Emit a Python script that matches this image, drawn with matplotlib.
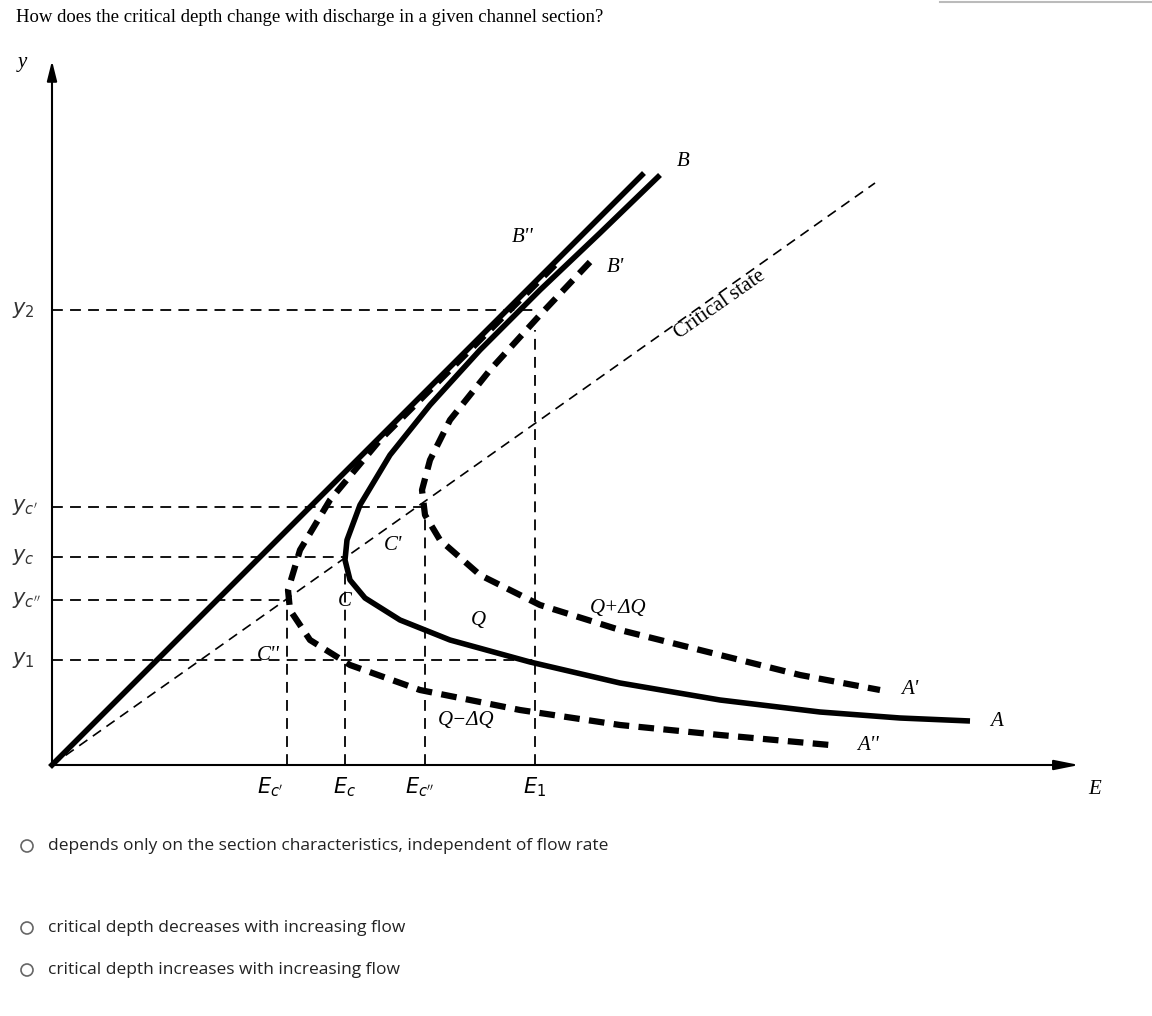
import matplotlib
matplotlib.use("Agg")
import matplotlib.pyplot as plt
import numpy as np

# Diagram data: (E, y) in diagram units (origin at axes corner)
ORIG = (52, 765)
q_E = [608, 548, 488, 428, 378, 338, 308, 295, 293, 298, 313, 348, 398, 478, 568, 668, 768, 848, 918]
q_y = [590, 532, 475, 415, 360, 310, 260, 225, 205, 185, 167, 145, 125, 103, 82, 65, 53, 47, 44]
qp_E = [538, 488, 438, 398, 378, 370, 373, 388, 428, 488, 568, 668, 748, 828]
qp_y = [503, 450, 395, 345, 305, 275, 250, 225, 190, 160, 135, 110, 90, 75]
qm_E = [503, 448, 388, 328, 278, 248, 236, 238, 258, 298, 368, 468, 568, 668, 778]
qm_y = [500, 445, 385, 325, 265, 215, 175, 155, 125, 100, 75, 55, 40, 30, 20]
line_end = 590          # E = y line extent
crit_end = (823, 582)   # critical state line end
y_ticks = [455, 258, 208, 165, 105]
y_tick_labels = [r"$y_2$", r"$y_{c'}$", r"$y_c$", r"$y_{c''}$", r"$y_1$"]
y_tick_ext = [483, 370, 293, 235, 483]
E_marks = [235, 293, 373, 483]
E_mark_top = [165, 205, 258, 435]
E_labels = [r"$E_{c'}$", r"$E_c$", r"$E_{c''}$", r"$E_1$"]
E_label_x = [270, 345, 420, 535]
options = ["depends only on the section characteristics, independent of flow rate",
           "critical depth decreases with increasing flow",
           "critical depth increases with increasing flow"]
option_y = [846, 928, 970]

fig = plt.figure(figsize=(11.52, 10.16), dpi=100)
ax = fig.add_axes([0, 0, 1, 1])
ax.set_xlim(0, 1152); ax.set_ylim(1016, 0); ax.axis("off")
X = lambda E: ORIG[0] + np.asarray(E, float)
Y = lambda y: ORIG[1] - np.asarray(y, float)
serif = "Liberation Serif"

ax.text(16, 18, "How does the critical depth change with discharge in a given channel section?",
        fontsize=13.5, family=serif, va="center")
ax.plot([940, 1152], [2, 2], color="#bbbbbb", lw=1.5)

# axes arrows
ax.annotate("", xy=(X(0), 58), xytext=(X(0), Y(0)),
            arrowprops=dict(arrowstyle="-|>,head_width=0.3,head_length=1.2", color="k", lw=1.5))
ax.annotate("", xy=(1082, Y(0)), xytext=(X(0), Y(0)),
            arrowprops=dict(arrowstyle="-|>,head_width=0.3,head_length=1.5", color="k", lw=1.5))
ax.text(18, 62, "y", fontsize=15, family=serif, style="italic", va="center")
ax.text(1088, 790, "E", fontsize=15, family=serif, style="italic", va="center")

# E = y line
ax.plot(X([0, line_end]), Y([0, line_end]), color="k", lw=4)
# critical line
ax.plot(X([0, crit_end[0]]), Y([0, crit_end[1]]), color="k", lw=1.2, ls=(0, (6, 4)))
ax.text(720, 305, "Critical state", fontsize=15, family=serif, rotation=35, ha="center", va="center")

ax.plot(X(q_E), Y(q_y), color="k", lw=4, solid_capstyle="butt")
ax.plot(X(qp_E), Y(qp_y), color="k", lw=4.5, ls=(0, (2.5, 1.5)))
ax.plot(X(qm_E), Y(qm_y), color="k", lw=4.5, ls=(0, (2.5, 1.5)))

for yv, lab, ext in zip(y_ticks, y_tick_labels, y_tick_ext):
    ax.plot(X([0, ext]), Y([yv, yv]), color="k", lw=1.3, ls=(0, (6, 4)))
    ax.text(12, Y(yv), lab, fontsize=15, family=serif, va="center", color="#333")
for e, top in zip(E_marks, E_mark_top):
    ax.plot(X([e, e]), Y([0, top]), color="k", lw=1.3, ls=(0, (6, 4)))
for xl, lab in zip(E_label_x, E_labels):
    ax.text(xl, 787, lab, fontsize=15, family=serif, ha="center", va="center")

for (x, y, t) in [(683, 162, "B"), (523, 237, "B''"), (615, 268, "B'"), (393, 545, "C'"),
                  (345, 602, "C"), (268, 655, "C''"), (478, 620, "Q"), (618, 608, "Q+ΔQ"),
                  (466, 720, "Q−ΔQ"), (910, 690, "A'"), (997, 722, "A"), (868, 746, "A''")]:
    ax.text(x, y, t, fontsize=15, family=serif, style="italic", ha="center", va="center")

for t, yy in zip(options, option_y):
    ax.add_patch(plt.Circle((27, yy), 6, fill=False, ec="#666", lw=1.2))
    ax.text(48, yy, t, fontsize=12.5, family="Open Sans", va="center", color="#222")

fig.savefig("out.png", dpi=100)
